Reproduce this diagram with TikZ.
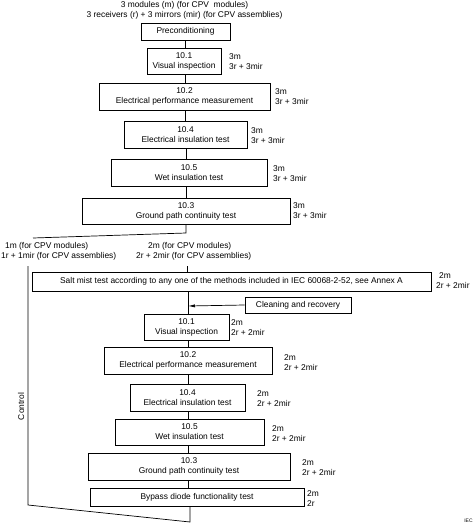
\documentclass[tikz,border=0pt]{standalone}
\usepackage{fontspec}
\setmainfont{Liberation Sans}
\usetikzlibrary{arrows.meta}
\begin{document}
\begin{tikzpicture}[x=1pt,y=-1pt,
  box/.style={draw,line width=0.7pt,inner sep=0pt,align=center,font=\fontsize{8.4}{10}\selectfont},
  lbl/.style={anchor=west,inner sep=0pt,align=left,font=\fontsize{8.4}{10}\selectfont},
  txt/.style={inner sep=0pt,align=center,font=\fontsize{8.4}{10}\selectfont},
  conn/.style={line width=0.7pt}]
\useasboundingbox (0,0) rectangle (474,525);
% top text
\node[txt] (top) at (184.5,10) {3 modules (m) (for CPV\ \ modules)\\3 receivers (r) + 3 mirrors (mir) (for CPV assemblies)};
% first sequence
\node[box,minimum width=89pt,minimum height=17pt] (pre) at (185.5,31.5) {Preconditioning};
\node[box,minimum width=74pt,minimum height=26pt] (vi1) at (184,61) {10.1\\Visual inspection};
\node[box,minimum width=171pt,minimum height=27pt] (ep1) at (184.5,96.5) {10.2\\Electrical performance measurement};
\node[box,minimum width=123pt,minimum height=27pt] (ei1) at (185.5,134.5) {10.4\\Electrical insulation test};
\node[box,minimum width=156pt,minimum height=27pt] (wi1) at (189,172.5) {10.5\\Wet insulation test};
\node[box,minimum width=208pt,minimum height=26pt] (gp1) at (186,211) {10.3\\Ground path continuity test};
\node[lbl] (l1) at (229,62) {3m\\3r + 3mir};
\node[lbl] (l2) at (275,97) {3m\\3r + 3mir};
\node[lbl] (l3) at (251,135.5) {3m\\3r + 3mir};
\node[lbl] (l4) at (273,174) {3m\\3r + 3mir};
\node[lbl] (l5) at (293,210.5) {3m\\3r + 3mir};
% connectors first sequence
\draw[conn] (185,40) coordinate (c1) -- (185,48) coordinate (c2);
\draw[conn] (185,74) coordinate (c3) -- (185,83) coordinate (c4);
\draw[conn] (185,110) coordinate (c5) -- (185,121) coordinate (c6);
\draw[conn] (186,148) coordinate (c7) -- (186,159) coordinate (c8);
\draw[conn] (186,186) coordinate (c9) -- (186,198) coordinate (c10);
\coordinate (split) at (186,233);
\coordinate (lefttop) at (33,238);
\draw[conn] (gp1.south) -- (split) -- (lefttop);
% branch labels
\node[txt,anchor=west] (b1) at (5,246) {1m (for CPV modules)};
\node[txt,anchor=west] (b2) at (1,256) {1r + 1mir (for CPV assemblies)};
\node[txt,anchor=west] (b3) at (148,246) {2m (for CPV modules)};
\node[txt,anchor=west] (b4) at (136,256) {2r + 2mir (for CPV assemblies)};
% second sequence
\node[box,minimum width=399pt,minimum height=19pt] (salt) at (231.5,281.5) {Salt mist test according to any one of the methods included in IEC 60068-2-52, see Annex A};
\node[lbl] (l6) at (436,281) {\hspace{3pt}2m\\2r + 2mir};
\node[box,minimum width=106pt,minimum height=16pt] (clean) at (298,305) {Cleaning and recovery};
\node[box,minimum width=85pt,minimum height=26pt] (vi2) at (186.5,327) {10.1\\Visual inspection};
\node[box,minimum width=168pt,minimum height=27pt] (ep2) at (188,360.5) {10.2\\Electrical performance measurement};
\node[box,minimum width=115pt,minimum height=27pt] (ei2) at (187.5,397.5) {10.4\\Electrical insulation test};
\node[box,minimum width=149pt,minimum height=26pt] (wi2) at (189.5,432) {10.5\\Wet insulation test};
\node[box,minimum width=202pt,minimum height=27pt] (gp2) at (189,466.5) {10.3\\Ground path continuity test};
\node[box,minimum width=214pt,minimum height=18pt] (byp) at (197,497) {Bypass diode functionality test};
\node[lbl] (l7) at (231,328) {2m\\2r + 2mir};
\node[lbl] (l8) at (284,363) {2m\\2r + 2mir};
\node[lbl] (l9) at (257,398.5) {2m\\2r + 2mir};
\node[lbl] (l10) at (272,433.5) {2m\\2r + 2mir};
\node[lbl] (l11) at (302,468) {2m\\2r + 2mir};
\node[lbl] (l12) at (307,498.5) {2m\\2r};
% connectors second sequence
\coordinate (rtop) at (187.5,266);
\draw[conn] (rtop) -- (rtop |- salt.north);
\coordinate (tr) at (188,306);
\draw[conn] (tr |- salt.south) -- (tr |- vi2.north);
\draw[conn,-{Latex[length=7pt,width=3.2pt]}] (clean.west) -- (tr);
\coordinate (tx) at (188.5,0);
\draw[conn] (tx |- vi2.south) -- (tx |- ep2.north);
\draw[conn] (tx |- ep2.south) -- (tx |- ei2.north);
\draw[conn] (tx |- ei2.south) -- (tx |- wi2.north);
\draw[conn] (tx |- wi2.south) -- (tx |- gp2.north);
\draw[conn] (tx |- gp2.south) -- (tx |- byp.north);
\coordinate (bot) at (190,522);
\coordinate (lvt) at (28,266);
\coordinate (lvb) at (28,505);
\draw[conn] (bot |- byp.south) -- (bot) -- (lvb) -- (lvt);
\node[txt,rotate=90] (ctrl) at (21,406.5) {Control};
\node[inner sep=0pt,font=\fontsize{5}{6}\selectfont] (iec) at (468.5,521) {IEC};
\end{tikzpicture}
\end{document}
